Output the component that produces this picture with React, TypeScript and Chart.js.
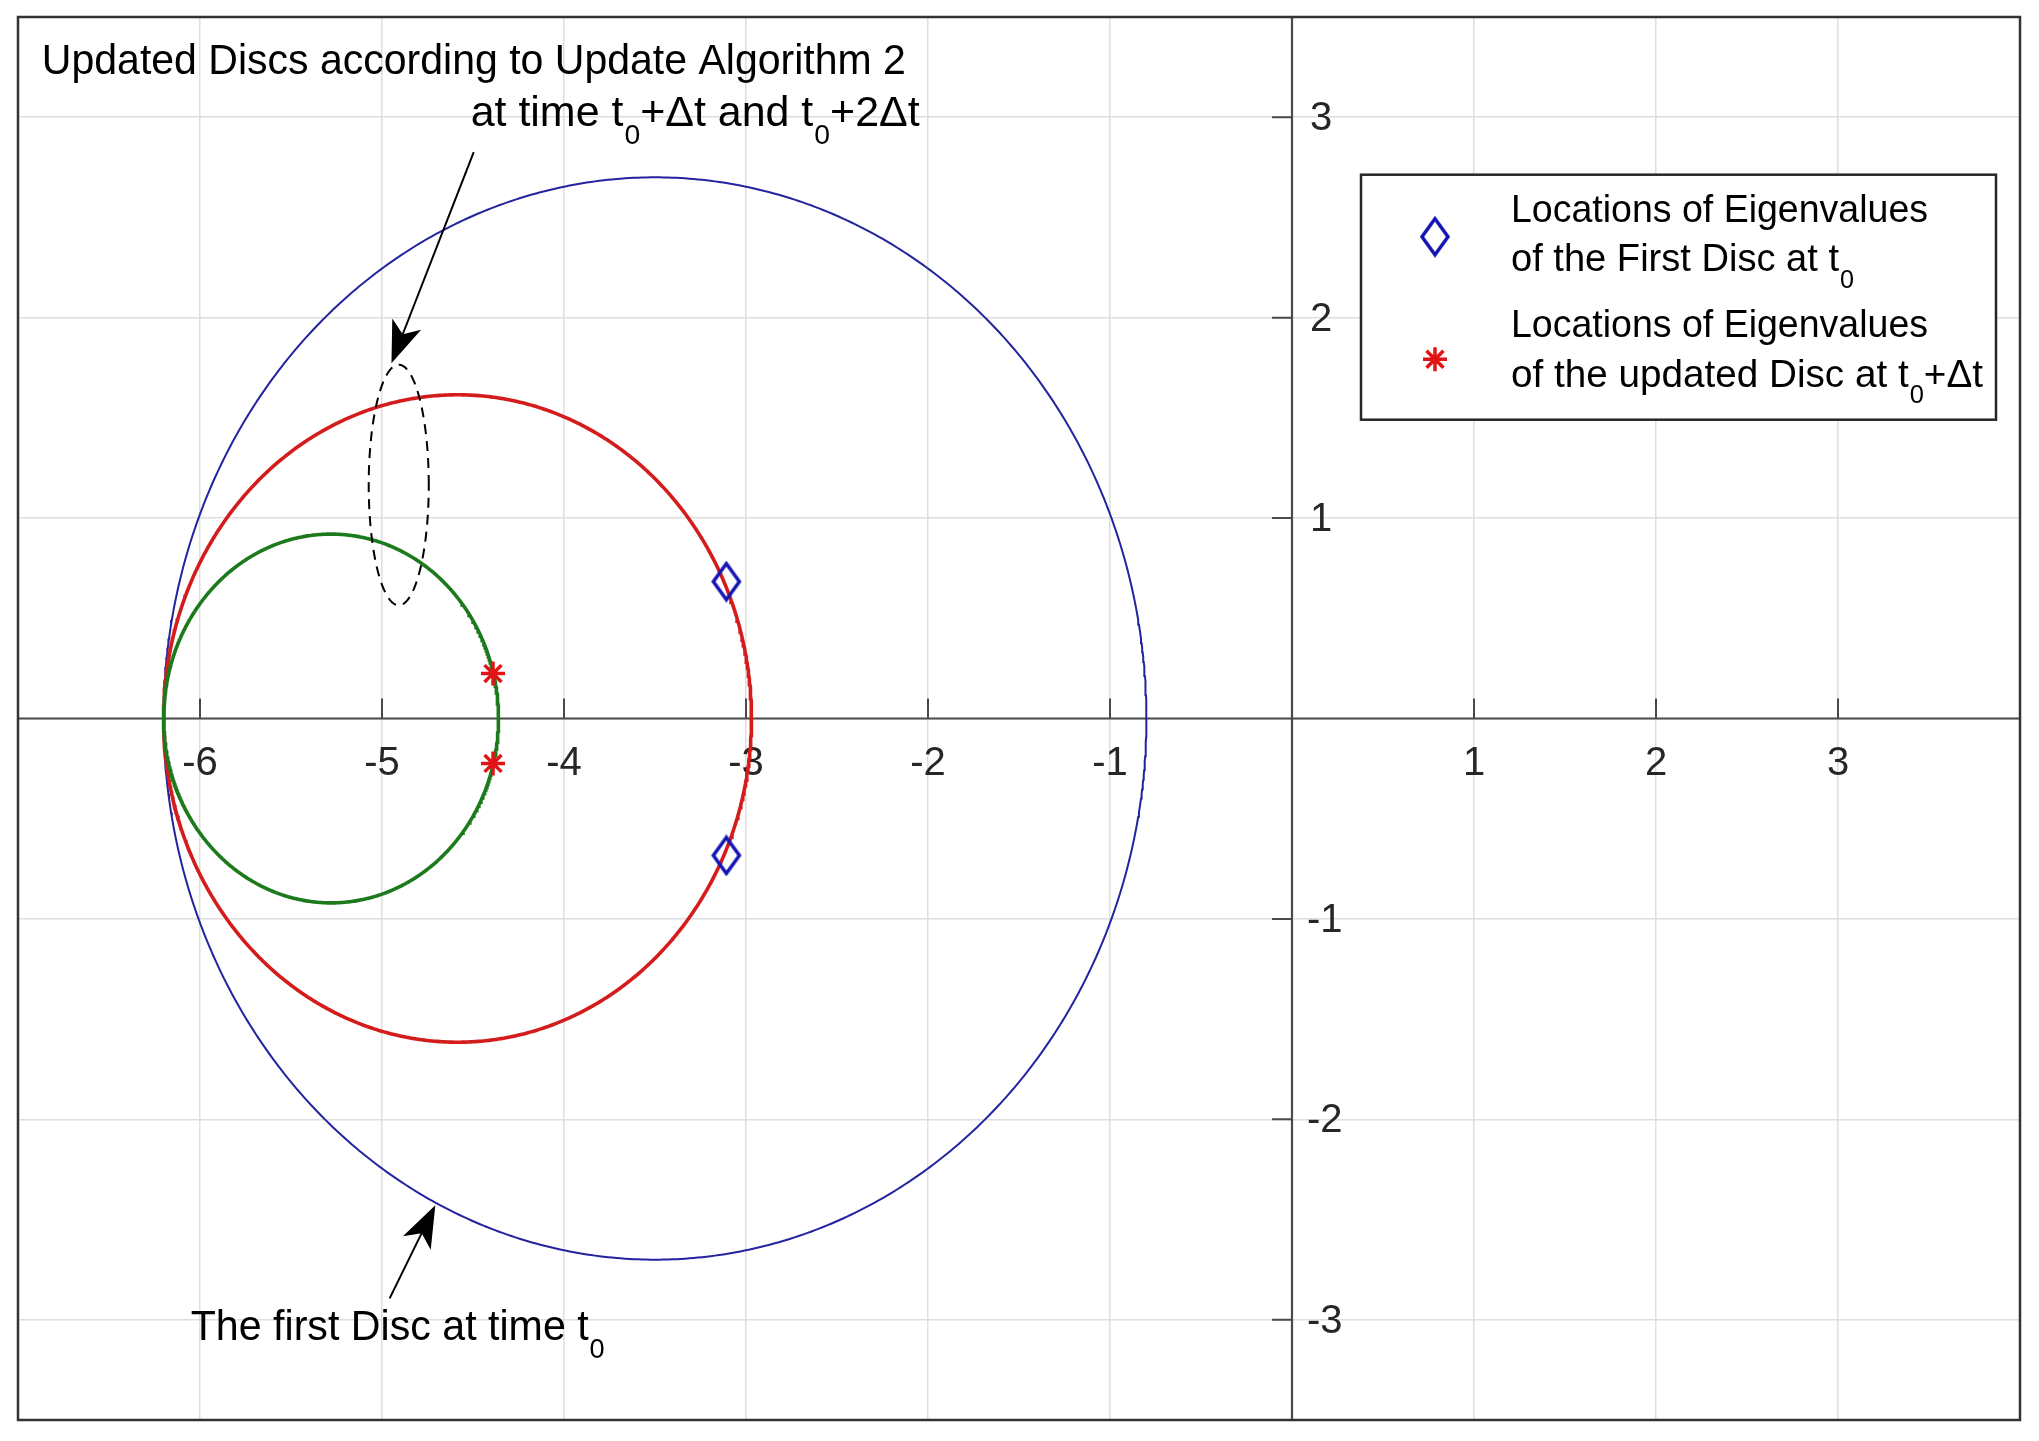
import React, { useEffect, useRef } from 'react';
import { Chart, registerables } from 'chart.js';

Chart.register(...registerables);

const FONT = '"Liberation Sans", Arial, Helvetica, sans-serif';

// ---- data ----
const discLabels = ['First disc at t0', 'Updated disc at t0+Δt', 'Updated disc at t0+2Δt'];
const discCenterX = [-3.5, -4.585, -5.28];
const discCenterY = [0, 0, 0];
const discRadius = [2.7, 1.615, 0.92];
const discColors = ['#24249e', '#d41c1c', '#1c7a1c'];
const discWidths = [2, 3.6, 3.6];

const eigenFirstX = [-3.108, -3.108];
const eigenFirstY = [0.683, -0.683];
const eigenUpdatedX = [-4.39, -4.39];
const eigenUpdatedY = [0.224, -0.224];

const highlightCenter = [-4.908, 1.165];
const highlightSemiAxes = [0.165, 0.6];

const xTicks = [-6, -5, -4, -3, -2, -1, 1, 2, 3];
const yTicks = [-3, -2, -1, 1, 2, 3];
const xGrid = [-7, -6, -5, -4, -3, -2, -1, 0, 1, 2, 3, 4];
const yGrid = [-3, -2, -1, 0, 1, 2, 3];
const xRange = [-7, 4];
const yRange = [-3.5, 3.5];

const legendLabels: Array<Array<[string, boolean]>> = [
  [['Locations of Eigenvalues', false]],
  [['of the First Disc at t', false], ['0', true]],
  [['Locations of Eigenvalues', false]],
  [['of the updated Disc at t', false], ['0', true], ['+Δt', false]],
];

const noteUpdated1: Array<[string, boolean]> = [['Updated Discs according to Update Algorithm 2', false]];
const noteUpdated2: Array<[string, boolean]> = [
  ['at time t', false], ['0', true], ['+Δt and t', false], ['0', true], ['+2Δt', false],
];
const noteFirst: Array<[string, boolean]> = [['The first Disc at time t', false], ['0', true]];

// annotation anchors in data units
const noteUpdated1Pos = { x: -6.869, y: 3.214, w: 864 };
const noteUpdated2Pos = { x: -4.513, y: 2.955, w: 449 };
const noteFirstPos = { x: -6.051, y: -3.101, w: 414 };
const arrowUpdated = { tail: [-4.496, 2.826], tip: [-4.948, 1.773] };
const arrowFirst = { tail: [-4.958, -2.893], tip: [-4.707, -2.429] };

function ellipsePoints(cx: number, cy: number, rx: number, ry: number, n = 720) {
  const pts: { x: number; y: number }[] = [];
  for (let i = 0; i <= n; i++) {
    const a = (i / n) * Math.PI * 2;
    pts.push({ x: cx + rx * Math.cos(a), y: cy + ry * Math.sin(a) });
  }
  return pts;
}

function drawRich(
  ctx: CanvasRenderingContext2D,
  parts: Array<[string, boolean]>,
  x: number,
  y: number,
  size: number,
  targetWidth?: number,
) {
  const subSize = size * 0.66;
  let total = 0;
  const widths: number[] = [];
  for (const [t, sub] of parts) {
    ctx.font = `${sub ? subSize : size}px ${FONT}`;
    const w = ctx.measureText(t).width + (sub ? 1 : 0);
    widths.push(w);
    total += w;
  }
  const sx = targetWidth ? targetWidth / total : 1;
  ctx.save();
  ctx.translate(x, y);
  ctx.scale(sx, 1);
  ctx.fillStyle = '#000';
  ctx.textAlign = 'left';
  ctx.textBaseline = 'alphabetic';
  let cx = 0;
  parts.forEach(([t, sub], i) => {
    ctx.font = `${sub ? subSize : size}px ${FONT}`;
    ctx.fillText(t, cx + (sub ? 1 : 0), sub ? size * 0.42 : 0);
    cx += widths[i];
  });
  ctx.restore();
}

function drawArrow(ctx: CanvasRenderingContext2D, tx: number, ty: number, hx: number, hy: number) {
  const dx = hx - tx;
  const dy = hy - ty;
  const len = Math.hypot(dx, dy);
  const ux = dx / len;
  const uy = dy / len;
  const nx = -uy;
  const ny = ux;
  const L = 42;
  const W = 15.5;
  const notch = 11;
  ctx.save();
  ctx.strokeStyle = '#000';
  ctx.lineWidth = 2;
  ctx.beginPath();
  ctx.moveTo(tx, ty);
  ctx.lineTo(hx - ux * (L - notch), hy - uy * (L - notch));
  ctx.stroke();
  ctx.fillStyle = '#000';
  ctx.beginPath();
  ctx.moveTo(hx, hy);
  ctx.lineTo(hx - ux * L + nx * W, hy - uy * L + ny * W);
  ctx.lineTo(hx - ux * (L - notch), hy - uy * (L - notch));
  ctx.lineTo(hx - ux * L - nx * W, hy - uy * L - ny * W);
  ctx.closePath();
  ctx.fill();
  ctx.restore();
}

function makeDiamond(): HTMLCanvasElement {
  const c = document.createElement('canvas');
  c.width = 32;
  c.height = 42;
  const g = c.getContext('2d')!;
  g.strokeStyle = '#1414b4';
  g.lineWidth = 3.5;
  g.lineJoin = 'miter';
  g.beginPath();
  g.moveTo(16, 3);
  g.lineTo(29, 21);
  g.lineTo(16, 39);
  g.lineTo(3, 21);
  g.closePath();
  g.stroke();
  return c;
}

function drawStar(ctx: CanvasRenderingContext2D, x: number, y: number, r: number) {
  ctx.save();
  ctx.strokeStyle = '#e01414';
  ctx.lineWidth = 3.5;
  ctx.beginPath();
  for (let k = 0; k < 4; k++) {
    const a = (k * Math.PI) / 4;
    ctx.moveTo(x - r * Math.cos(a), y - r * Math.sin(a));
    ctx.lineTo(x + r * Math.cos(a), y + r * Math.sin(a));
  }
  ctx.stroke();
  ctx.restore();
}

export default function App() {
  const ref = useRef<HTMLCanvasElement>(null);

  useEffect(() => {
    document.body.style.margin = '0';
    const canvas = ref.current!;
    const diamond = makeDiamond();

    const discDatasets = discLabels.map((label, i) => ({
      label,
      data: ellipsePoints(discCenterX[i], discCenterY[i], discRadius[i], discRadius[i]),
      showLine: true,
      pointRadius: 0,
      borderColor: discColors[i],
      borderWidth: discWidths[i],
      fill: false,
      tension: 0,
      order: 4 - i,
    }));

    const bgPlugin = {
      id: 'bg',
      beforeDraw(chart: any) {
        const ctx = chart.ctx as CanvasRenderingContext2D;
        ctx.save();
        ctx.fillStyle = '#fff';
        ctx.fillRect(0, 0, chart.width, chart.height);
        ctx.restore();
      },
    };

    const axesPlugin = {
      id: 'originAxes',
      beforeDatasetsDraw(chart: any) {
        const ctx = chart.ctx as CanvasRenderingContext2D;
        const ca = chart.chartArea;
        const xs = chart.scales.x;
        const ys = chart.scales.y;
        const x0 = xs.getPixelForValue(0);
        const y0 = ys.getPixelForValue(0);
        ctx.save();
        ctx.strokeStyle = '#4a4a4a';
        ctx.lineWidth = 2.2;
        ctx.beginPath();
        ctx.moveTo(ca.left, y0);
        ctx.lineTo(ca.right, y0);
        ctx.moveTo(x0, ca.top);
        ctx.lineTo(x0, ca.bottom);
        ctx.stroke();
        ctx.lineWidth = 2;
        ctx.beginPath();
        xTicks.forEach((v) => {
          const px = xs.getPixelForValue(v);
          ctx.moveTo(px, y0);
          ctx.lineTo(px, y0 - 20);
        });
        yTicks.forEach((v) => {
          const py = ys.getPixelForValue(v);
          ctx.moveTo(x0, py);
          ctx.lineTo(x0 - 20, py);
        });
        ctx.stroke();
        ctx.fillStyle = '#262626';
        ctx.font = `40px ${FONT}`;
        ctx.textBaseline = 'middle';
        ctx.textAlign = 'center';
        xTicks.forEach((v) => {
          ctx.fillText(String(v), xs.getPixelForValue(v), y0 + 45);
        });
        ctx.textAlign = 'left';
        yTicks.forEach((v) => {
          ctx.fillText(String(v), x0 + (v < 0 ? 15 : 18), ys.getPixelForValue(v) + 2);
        });
        ctx.restore();
      },
    };

    const annotPlugin = {
      id: 'annotations',
      afterDatasetsDraw(chart: any) {
        const ctx = chart.ctx as CanvasRenderingContext2D;
        const ca = chart.chartArea;
        const xs = chart.scales.x;
        const ys = chart.scales.y;
        const px = (v: number) => xs.getPixelForValue(v);
        const py = (v: number) => ys.getPixelForValue(v);

        drawRich(ctx, noteUpdated1, px(noteUpdated1Pos.x), py(noteUpdated1Pos.y), 43, noteUpdated1Pos.w);
        drawRich(ctx, noteUpdated2, px(noteUpdated2Pos.x), py(noteUpdated2Pos.y), 43, noteUpdated2Pos.w);
        drawRich(ctx, noteFirst, px(noteFirstPos.x), py(noteFirstPos.y), 43, noteFirstPos.w);

        drawArrow(ctx, px(arrowUpdated.tail[0]), py(arrowUpdated.tail[1]), px(arrowUpdated.tip[0]), py(arrowUpdated.tip[1]));
        drawArrow(ctx, px(arrowFirst.tail[0]), py(arrowFirst.tail[1]), px(arrowFirst.tip[0]), py(arrowFirst.tip[1]));

        // legend
        const bl = ca.right - 659;
        const bt = ca.top + 157.7;
        const bw = 635;
        const bh = 245;
        ctx.save();
        ctx.fillStyle = '#fff';
        ctx.fillRect(bl, bt, bw, bh);
        ctx.strokeStyle = '#262626';
        ctx.lineWidth = 2.5;
        ctx.strokeRect(bl, bt, bw, bh);
        ctx.restore();
        ctx.drawImage(diamond, bl + 74 - diamond.width / 2, bt + 62 - diamond.height / 2);
        drawStar(ctx, bl + 74, bt + 184.6, 12);
        const tl = bl + 150;
        const widths = [417, 343, 417, 472];
        const base = [47.3, 96.6, 162.3, 212.3];
        legendLabels.forEach((parts, i) => {
          drawRich(ctx, parts, tl, bt + base[i], 39, widths[i]);
        });
      },
      afterDraw(chart: any) {
        const ctx = chart.ctx as CanvasRenderingContext2D;
        const ca = chart.chartArea;
        ctx.save();
        ctx.strokeStyle = '#333';
        ctx.lineWidth = 2.5;
        ctx.strokeRect(ca.left, ca.top, ca.right - ca.left, ca.bottom - ca.top);
        ctx.restore();
      },
    };

    const chart = new Chart(canvas, {
      type: 'scatter',
      data: {
        datasets: [
          {
            label: 'Locations of Eigenvalues of the First Disc at t0',
            data: eigenFirstX.map((x, i) => ({ x, y: eigenFirstY[i] })),
            pointStyle: diamond as any,
            pointRadius: 16,
            showLine: false,
            order: 0,
          },
          {
            label: 'Locations of Eigenvalues of the updated Disc at t0+Δt',
            data: eigenUpdatedX.map((x, i) => ({ x, y: eigenUpdatedY[i] })),
            pointStyle: 'star',
            pointRadius: 12,
            borderColor: '#e01414',
            backgroundColor: '#e01414',
            borderWidth: 3.5,
            showLine: false,
            order: 0,
          },
          {
            label: 'Highlighted region',
            data: ellipsePoints(highlightCenter[0], highlightCenter[1], highlightSemiAxes[0], highlightSemiAxes[1]),
            showLine: true,
            pointRadius: 0,
            borderColor: '#000',
            borderWidth: 2,
            borderDash: [10, 7],
            fill: false,
            order: 1,
          },
          ...discDatasets,
        ] as any,
      },
      options: {
        responsive: false,
        devicePixelRatio: 1,
        animation: false,
        layout: { padding: { left: 18, top: 15, right: 19, bottom: 21 } },
        plugins: { legend: { display: false }, tooltip: { enabled: false } },
        scales: {
          x: {
            type: 'linear',
            min: xRange[0],
            max: xRange[1],
            afterBuildTicks: (s: any) => {
              s.ticks = xGrid.map((v) => ({ value: v }));
            },
            afterFit: (s: any) => {
              s.height = 0;
            },
            ticks: { display: false },
            grid: { color: '#dedede', lineWidth: 1.5, drawTicks: false },
            border: { display: false },
          },
          y: {
            type: 'linear',
            min: yRange[0],
            max: yRange[1],
            afterBuildTicks: (s: any) => {
              s.ticks = yGrid.map((v) => ({ value: v }));
            },
            afterFit: (s: any) => {
              s.width = 0;
            },
            ticks: { display: false },
            grid: { color: '#dedede', lineWidth: 1.5, drawTicks: false },
            border: { display: false },
          },
        },
      } as any,
      plugins: [bgPlugin, axesPlugin, annotPlugin],
    });
    return () => chart.destroy();
  }, []);

  return (
    <div style={{ width: 2039, height: 1441 }}>
      <canvas ref={ref} width={2039} height={1441} style={{ display: 'block' }} />
    </div>
  );
}
